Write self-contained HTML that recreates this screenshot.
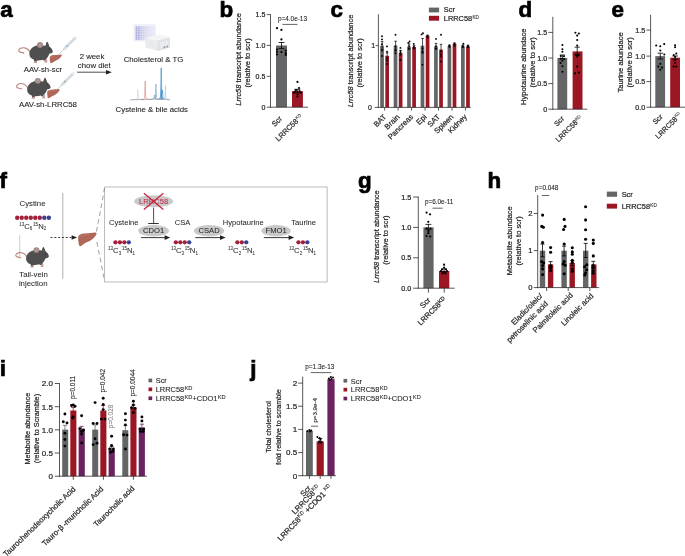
<!DOCTYPE html>
<html><head><meta charset="utf-8"><title>Figure</title>
<style>
html,body{margin:0;padding:0;background:#fff;}
svg{display:block;font-family:"Liberation Sans",sans-serif;}
</style></head><body>
<svg width="685" height="556" viewBox="0 0 685 556">
<rect width="685" height="556" fill="#fff"/>
<text x="0.2" y="16.6" font-size="22.4" font-weight="bold" fill="#000" stroke="#000" stroke-width="0.7">a</text>
<text x="219.5" y="16.6" font-size="22.4" font-weight="bold" fill="#000" stroke="#000" stroke-width="0.7">b</text>
<text x="330.5" y="16.6" font-size="22.4" font-weight="bold" fill="#000" stroke="#000" stroke-width="0.7">c</text>
<text x="518.5" y="16.6" font-size="22.4" font-weight="bold" fill="#000" stroke="#000" stroke-width="0.7">d</text>
<text x="611.5" y="16.6" font-size="22.4" font-weight="bold" fill="#000" stroke="#000" stroke-width="0.7">e</text>
<text x="-0.5" y="187.7" font-size="22.4" font-weight="bold" fill="#000" stroke="#000" stroke-width="0.7">f</text>
<text x="358" y="187.7" font-size="22.4" font-weight="bold" fill="#000" stroke="#000" stroke-width="0.7">g</text>
<text x="487.5" y="187.7" font-size="22.4" font-weight="bold" fill="#000" stroke="#000" stroke-width="0.7">h</text>
<text x="-0.2" y="375.8" font-size="22.4" font-weight="bold" fill="#000" stroke="#000" stroke-width="0.7">i</text>
<text x="250.2" y="375.8" font-size="22.4" font-weight="bold" fill="#000" stroke="#000" stroke-width="0.7">j</text>
<g transform="translate(17.5 40.5) scale(1.0) translate(-17.5 -40.5)">
<path d="M30.2 52.2 C28.4 48.2 23.4 46.6 20 48.6 C17.8 50 18.8 52.2 21 52.4 C22 52.5 23 52.6 23.8 53.2" fill="none" stroke="#bb877c" stroke-width="1.15" stroke-linecap="round"/>
<path d="M35 58 L34.2 62.2 L33 63 L37 63 L37.6 58.5 Z" fill="#c39a92"/>
<path d="M44.2 58 L44.8 61.6 L43.8 62.6 L47.4 62.4 L46.6 57.6 Z" fill="#c39a92"/>
<path d="M29.4 54.6 C29 49.6 33 45.6 38.6 45.2 C41.6 45 44 45.2 45.4 45.8 L46.4 42.6 C46.8 41.6 47.6 41.6 48 42.6 L49.4 46.4 C51 47.4 52.4 49.4 52.8 51.2 C53 52.4 52.2 53 51 53.2 C50 53.4 49.4 53.6 49 54.4 C48.2 56.6 47 58.4 45.2 59.4 L45 60.4 L43.4 60.4 L43.2 59.8 C41 60.4 38.6 60.6 36.6 60.4 L36.2 61.2 L34.2 61.2 L34 59.8 C31.2 58.8 29.6 57 29.4 54.6 Z" fill="#504f50"/>
<ellipse cx="40" cy="45" rx="3" ry="2.9" fill="#9c8785"/>
<ellipse cx="40.2" cy="45.3" rx="2" ry="1.9" fill="#b09794"/>
<circle cx="49.4" cy="49.2" r="0.6" fill="#1d1d1d"/>
</g>
<g transform="translate(49.4 54.3) scale(0.93)">
<path d="M0.4 3.2 C0.6 1.6 2.4 1 4.6 0.8 C7.6 0.5 10.6 0.4 12.4 0.1 C13.4 0 13.6 0.8 13 1.8 C11.8 3.8 10 5.4 7.8 6.4 C5.8 7.2 4.2 8 3 9.2 C2 10 1 9.8 0.8 8.4 C0.5 6.6 0.3 4.8 0.4 3.2 Z" fill="#b0675a"/>
<path d="M1.6 2.6 C3.6 1.8 6 1.6 8.6 1.5" fill="none" stroke="#c48678" stroke-width="0.5" opacity="0.7"/>
</g>
<g transform="translate(59.3 53.8) rotate(-44.83)">
<line x1="0" y1="0" x2="6.59" y2="0" stroke="#8aa5a2" stroke-width="0.5"/>
<rect x="5.89" y="-0.6" width="1.18" height="1.2" fill="#a8c3c6"/>
<rect x="6.83" y="-1.3" width="14.13" height="2.6" rx="0.3" fill="#e0e6ea" stroke="#cdd6dc" stroke-width="0.3"/>
<rect x="7.3" y="-0.9" width="3.53" height="1.8" fill="#c9dbe3"/>
<rect x="10.83" y="-1.0" width="0.82" height="2.0" fill="#767d89"/>
<rect x="11.66" y="-0.45" width="10.6" height="0.9" fill="#c9d1d8"/>
<rect x="20.96" y="-2.0" width="0.8" height="4.0" fill="#c9d2d9"/>
<rect x="22.84" y="-1.5" width="0.7" height="3.0" fill="#c9d2d9"/>
</g>
<text x="43" y="72.3" font-size="7.8" text-anchor="middle" fill="#231f20" stroke="#231f20" stroke-width="0.1" >AAV-sh-scr</text>
<g transform="translate(15.3 76.3) scale(1.0) translate(-17.5 -40.5)">
<path d="M30.2 52.2 C28.4 48.2 23.4 46.6 20 48.6 C17.8 50 18.8 52.2 21 52.4 C22 52.5 23 52.6 23.8 53.2" fill="none" stroke="#bb877c" stroke-width="1.15" stroke-linecap="round"/>
<path d="M35 58 L34.2 62.2 L33 63 L37 63 L37.6 58.5 Z" fill="#c39a92"/>
<path d="M44.2 58 L44.8 61.6 L43.8 62.6 L47.4 62.4 L46.6 57.6 Z" fill="#c39a92"/>
<path d="M29.4 54.6 C29 49.6 33 45.6 38.6 45.2 C41.6 45 44 45.2 45.4 45.8 L46.4 42.6 C46.8 41.6 47.6 41.6 48 42.6 L49.4 46.4 C51 47.4 52.4 49.4 52.8 51.2 C53 52.4 52.2 53 51 53.2 C50 53.4 49.4 53.6 49 54.4 C48.2 56.6 47 58.4 45.2 59.4 L45 60.4 L43.4 60.4 L43.2 59.8 C41 60.4 38.6 60.6 36.6 60.4 L36.2 61.2 L34.2 61.2 L34 59.8 C31.2 58.8 29.6 57 29.4 54.6 Z" fill="#504f50"/>
<ellipse cx="40" cy="45" rx="3" ry="2.9" fill="#9c8785"/>
<ellipse cx="40.2" cy="45.3" rx="2" ry="1.9" fill="#b09794"/>
<circle cx="49.4" cy="49.2" r="0.6" fill="#1d1d1d"/>
</g>
<g transform="translate(46.8 89) scale(0.96)">
<path d="M0.4 3.2 C0.6 1.6 2.4 1 4.6 0.8 C7.6 0.5 10.6 0.4 12.4 0.1 C13.4 0 13.6 0.8 13 1.8 C11.8 3.8 10 5.4 7.8 6.4 C5.8 7.2 4.2 8 3 9.2 C2 10 1 9.8 0.8 8.4 C0.5 6.6 0.3 4.8 0.4 3.2 Z" fill="#b0675a"/>
<path d="M1.6 2.6 C3.6 1.8 6 1.6 8.6 1.5" fill="none" stroke="#c48678" stroke-width="0.5" opacity="0.7"/>
</g>
<g transform="translate(57 89.6) rotate(-44.66)">
<line x1="0" y1="0" x2="6.69" y2="0" stroke="#8aa5a2" stroke-width="0.5"/>
<rect x="5.98" y="-0.6" width="1.2" height="1.2" fill="#a8c3c6"/>
<rect x="6.93" y="-1.3" width="14.34" height="2.6" rx="0.3" fill="#e0e6ea" stroke="#cdd6dc" stroke-width="0.3"/>
<rect x="7.41" y="-0.9" width="3.59" height="1.8" fill="#c9dbe3"/>
<rect x="10.99" y="-1.0" width="0.84" height="2.0" fill="#767d89"/>
<rect x="11.83" y="-0.45" width="10.76" height="0.9" fill="#c9d1d8"/>
<rect x="21.27" y="-2.0" width="0.8" height="4.0" fill="#c9d2d9"/>
<rect x="23.18" y="-1.5" width="0.7" height="3.0" fill="#c9d2d9"/>
</g>
<text x="48" y="106.7" font-size="7.8" text-anchor="middle" fill="#231f20" stroke="#231f20" stroke-width="0.1" >AAV-sh-LRRC58</text>
<text x="92" y="58.7" font-size="7.8" text-anchor="middle" fill="#231f20" stroke="#231f20" stroke-width="0.1" >2 week</text>
<text x="94.3" y="67.7" font-size="7.8" text-anchor="middle" fill="#231f20" stroke="#231f20" stroke-width="0.1" >chow diet</text>
<line x1="77.2" y1="72.2" x2="107.5" y2="72.2" stroke="#231f20" stroke-width="0.8" />
<path d="M111.8 72.2 L106 70 L106 74.4 Z" fill="#231f20"/>
<g>
<rect x="133.4" y="24.2" width="22.5" height="17.3" fill="#eff1f9"/>
<rect x="135.2" y="26" width="19.4" height="14.2" fill="#e6e8f5"/>
<rect x="135.6" y="26.4" width="1.8" height="1.25" fill="#a6a2da"/>
<rect x="135.6" y="28.12" width="1.8" height="1.25" fill="#a6a2da"/>
<rect x="135.6" y="29.84" width="1.8" height="1.25" fill="#a6a2da"/>
<rect x="135.6" y="31.56" width="1.8" height="1.25" fill="#a6a2da"/>
<rect x="135.6" y="33.28" width="1.8" height="1.25" fill="#a6a2da"/>
<rect x="135.6" y="35" width="1.8" height="1.25" fill="#a6a2da"/>
<rect x="135.6" y="36.72" width="1.8" height="1.25" fill="#a6a2da"/>
<rect x="135.6" y="38.44" width="1.8" height="1.25" fill="#a6a2da"/>
<rect x="137.95" y="26.4" width="1.8" height="1.25" fill="#aeabde"/>
<rect x="137.95" y="28.12" width="1.8" height="1.25" fill="#aeabde"/>
<rect x="137.95" y="29.84" width="1.8" height="1.25" fill="#aeabde"/>
<rect x="137.95" y="31.56" width="1.8" height="1.25" fill="#aeabde"/>
<rect x="137.95" y="33.28" width="1.8" height="1.25" fill="#aeabde"/>
<rect x="137.95" y="35" width="1.8" height="1.25" fill="#aeabde"/>
<rect x="137.95" y="36.72" width="1.8" height="1.25" fill="#aeabde"/>
<rect x="137.95" y="38.44" width="1.8" height="1.25" fill="#aeabde"/>
<rect x="140.3" y="26.4" width="1.8" height="1.25" fill="#c3c1e8"/>
<rect x="140.3" y="28.12" width="1.8" height="1.25" fill="#c3c1e8"/>
<rect x="140.3" y="29.84" width="1.8" height="1.25" fill="#c3c1e8"/>
<rect x="140.3" y="31.56" width="1.8" height="1.25" fill="#c3c1e8"/>
<rect x="140.3" y="33.28" width="1.8" height="1.25" fill="#c3c1e8"/>
<rect x="140.3" y="35" width="1.8" height="1.25" fill="#c3c1e8"/>
<rect x="140.3" y="36.72" width="1.8" height="1.25" fill="#c3c1e8"/>
<rect x="140.3" y="38.44" width="1.8" height="1.25" fill="#c3c1e8"/>
<rect x="142.65" y="26.4" width="1.8" height="1.25" fill="#cdcced"/>
<rect x="142.65" y="28.12" width="1.8" height="1.25" fill="#cdcced"/>
<rect x="142.65" y="29.84" width="1.8" height="1.25" fill="#cdcced"/>
<rect x="142.65" y="31.56" width="1.8" height="1.25" fill="#cdcced"/>
<rect x="142.65" y="33.28" width="1.8" height="1.25" fill="#cdcced"/>
<rect x="142.65" y="35" width="1.8" height="1.25" fill="#cdcced"/>
<rect x="142.65" y="36.72" width="1.8" height="1.25" fill="#cdcced"/>
<rect x="142.65" y="38.44" width="1.8" height="1.25" fill="#cdcced"/>
<rect x="145" y="26.4" width="1.8" height="1.25" fill="#dadaf2"/>
<rect x="145" y="28.12" width="1.8" height="1.25" fill="#dadaf2"/>
<rect x="145" y="29.84" width="1.8" height="1.25" fill="#dadaf2"/>
<rect x="145" y="31.56" width="1.8" height="1.25" fill="#dadaf2"/>
<rect x="145" y="33.28" width="1.8" height="1.25" fill="#dadaf2"/>
<rect x="145" y="35" width="1.8" height="1.25" fill="#dadaf2"/>
<rect x="145" y="36.72" width="1.8" height="1.25" fill="#dadaf2"/>
<rect x="145" y="38.44" width="1.8" height="1.25" fill="#dadaf2"/>
<rect x="147.35" y="26.4" width="1.8" height="1.25" fill="#dfe0f4"/>
<rect x="147.35" y="28.12" width="1.8" height="1.25" fill="#dfe0f4"/>
<rect x="147.35" y="29.84" width="1.8" height="1.25" fill="#dfe0f4"/>
<rect x="147.35" y="31.56" width="1.8" height="1.25" fill="#dfe0f4"/>
<rect x="147.35" y="33.28" width="1.8" height="1.25" fill="#dfe0f4"/>
<rect x="147.35" y="35" width="1.8" height="1.25" fill="#dfe0f4"/>
<rect x="147.35" y="36.72" width="1.8" height="1.25" fill="#dfe0f4"/>
<rect x="147.35" y="38.44" width="1.8" height="1.25" fill="#dfe0f4"/>
<rect x="149.7" y="26.4" width="1.8" height="1.25" fill="#e6e7f6"/>
<rect x="149.7" y="28.12" width="1.8" height="1.25" fill="#e6e7f6"/>
<rect x="149.7" y="29.84" width="1.8" height="1.25" fill="#e6e7f6"/>
<rect x="149.7" y="31.56" width="1.8" height="1.25" fill="#e6e7f6"/>
<rect x="149.7" y="33.28" width="1.8" height="1.25" fill="#e6e7f6"/>
<rect x="149.7" y="35" width="1.8" height="1.25" fill="#e6e7f6"/>
<rect x="149.7" y="36.72" width="1.8" height="1.25" fill="#e6e7f6"/>
<rect x="149.7" y="38.44" width="1.8" height="1.25" fill="#e6e7f6"/>
<rect x="152.05" y="26.4" width="1.8" height="1.25" fill="#e9eaf7"/>
<rect x="152.05" y="28.12" width="1.8" height="1.25" fill="#e9eaf7"/>
<rect x="152.05" y="29.84" width="1.8" height="1.25" fill="#e9eaf7"/>
<rect x="152.05" y="31.56" width="1.8" height="1.25" fill="#e9eaf7"/>
<rect x="152.05" y="33.28" width="1.8" height="1.25" fill="#e9eaf7"/>
<rect x="152.05" y="35" width="1.8" height="1.25" fill="#e9eaf7"/>
<rect x="152.05" y="36.72" width="1.8" height="1.25" fill="#e9eaf7"/>
<rect x="152.05" y="38.44" width="1.8" height="1.25" fill="#e9eaf7"/>
<path d="M145.4 38.2 L158.6 34.8 L169.8 37.4 L169.8 47.6 L157.6 50.8 L145.4 47.6 Z" fill="#eaebef"/>
<path d="M145.4 38.2 L158.6 34.8 L169.8 37.4 L157.6 40.8 Z" fill="#f5f5f8"/>
<path d="M157.6 40.8 L169.8 37.4 L169.8 47.6 L157.6 50.8 Z" fill="#dfe0e6"/>
<path d="M159.6 42.2 L168.4 39.8 L168.4 46.2 L159.6 48.6 Z" fill="#e9eaef"/>
<path d="M163.6 46.6 L165.2 46.2 L165.2 47.9 L163.6 48.3 Z" fill="#8a8e9a"/>
<path d="M166.4 45.9 L168 45.5 L168 47.2 L166.4 47.6 Z" fill="#8a8e9a"/>
</g>
<text x="153.5" y="61.7" font-size="7.8" text-anchor="middle" fill="#231f20" stroke="#231f20" stroke-width="0.1" >Cholesterol &amp; TG</text>
<g fill="none" stroke-linejoin="round">
<path d="M130.5 99.8 L137.3 99.6 L137.8 89.3 L138.3 99.6 L143 99.5" stroke="#bdd0e8" stroke-width="0.55"/>
<path d="M141 99.6 L144 99.2 L144.6 97.8 L145.2 81 L145.8 97.8 L146.5 99 L148.5 99.4" stroke="#d9897c" stroke-width="0.65"/>
<path d="M149 99.5 L153.5 99 L154.4 95 L155.2 98 L155.9 84 L156.6 97.5 L157.4 99.2 L159.5 99" stroke="#7fa6d4" stroke-width="0.65"/>
<path d="M154.5 99.3 L155.3 93 L156.4 99.3 Z" fill="#8eb0da" stroke="none"/>
<path d="M158.8 99.4 L160.5 96.6 L161.2 67.8 L161.9 94 L162.5 90 L163.1 99 L164.5 99.4" stroke="#3f8fc6" stroke-width="0.7"/>
<path d="M160.3 99.4 L161.2 86 L162.8 99.4 Z" fill="#4d97cb" stroke="none"/>
<path d="M164 99.5 L164.9 99 L165.4 85.6 L165.9 99 L169.8 99.6" stroke="#9dbfe2" stroke-width="0.55"/>
<path d="M130.3 100 L134 99.4 L136 99.9 L140 99.3 L143 99.9 L148 99 L150 99.8 L153 98.8 L158 99.6 L164 99.1 L169.8 100" stroke="#60646c" stroke-width="0.45"/>
</g>
<text x="151.8" y="112.1" font-size="7.8" text-anchor="middle" fill="#231f20" stroke="#231f20" stroke-width="0.1" >Cysteine &amp; bile acids</text>
<text x="241" y="59.4" font-size="7.45" text-anchor="middle" fill="#231f20" stroke="#231f20" stroke-width="0.22" transform="rotate(-90 241 59.4)" ><tspan font-style="italic">Lrrc58</tspan> transcript abundance</text>
<text x="249.8" y="62.9" font-size="7.45" text-anchor="middle" fill="#231f20" stroke="#231f20" stroke-width="0.22" transform="rotate(-90 249.8 62.9)" >(relative to scr)</text>
<rect x="276" y="45.5" width="11" height="61.7" fill="#636567" />
<rect x="292" y="91.1" width="10.9" height="16.1" fill="#9b1724" />
<line x1="270.5" y1="14.22" x2="270.5" y2="107.58" stroke="#231f20" stroke-width="0.75" />
<line x1="266.8" y1="14.6" x2="270.5" y2="14.6" stroke="#231f20" stroke-width="0.75" />
<text x="265.3" y="17.11" font-size="7.0" text-anchor="end" fill="#231f20" stroke="#231f20" stroke-width="0.22" >1.5</text>
<line x1="266.8" y1="45.4" x2="270.5" y2="45.4" stroke="#231f20" stroke-width="0.75" />
<text x="265.3" y="47.91" font-size="7.0" text-anchor="end" fill="#231f20" stroke="#231f20" stroke-width="0.22" >1.0</text>
<line x1="266.8" y1="76.3" x2="270.5" y2="76.3" stroke="#231f20" stroke-width="0.75" />
<text x="265.3" y="78.81" font-size="7.0" text-anchor="end" fill="#231f20" stroke="#231f20" stroke-width="0.22" >0.5</text>
<line x1="266.8" y1="107.2" x2="270.5" y2="107.2" stroke="#231f20" stroke-width="0.75" />
<text x="265.3" y="109.71" font-size="7.0" text-anchor="end" fill="#231f20" stroke="#231f20" stroke-width="0.22" >0</text>
<line x1="270.1" y1="107.2" x2="308" y2="107.2" stroke="#231f20" stroke-width="0.75" />
<line x1="281.5" y1="42.5" x2="281.5" y2="48.6" stroke="#000" stroke-width="0.8" />
<line x1="278.5" y1="42.5" x2="284.5" y2="42.5" stroke="#000" stroke-width="0.8" />
<line x1="278.5" y1="48.6" x2="284.5" y2="48.6" stroke="#000" stroke-width="0.8" />
<circle cx="277" cy="28.2" r="1.1" fill="#000"/>
<circle cx="281.4" cy="29.9" r="1.1" fill="#000"/>
<circle cx="281.4" cy="39.4" r="1.1" fill="#000"/>
<circle cx="277" cy="49.5" r="1.1" fill="#000"/>
<circle cx="277" cy="52" r="1.1" fill="#000"/>
<circle cx="277" cy="54.5" r="1.1" fill="#000"/>
<circle cx="281.4" cy="52" r="1.1" fill="#000"/>
<circle cx="285.8" cy="50.5" r="1.1" fill="#000"/>
<circle cx="285.8" cy="53.2" r="1.1" fill="#000"/>
<circle cx="285.8" cy="55" r="1.1" fill="#000"/>
<line x1="297.4" y1="89.3" x2="297.4" y2="92.6" stroke="#000" stroke-width="0.8" />
<line x1="294.4" y1="89.3" x2="300.4" y2="89.3" stroke="#000" stroke-width="0.8" />
<line x1="294.4" y1="92.6" x2="300.4" y2="92.6" stroke="#000" stroke-width="0.8" />
<circle cx="297.5" cy="81.9" r="1.1" fill="#000"/>
<circle cx="299" cy="88" r="1.1" fill="#000"/>
<circle cx="295.3" cy="91.4" r="1.1" fill="#000"/>
<circle cx="293.8" cy="92.8" r="1.1" fill="#000"/>
<circle cx="301" cy="92.8" r="1.1" fill="#000"/>
<circle cx="297.5" cy="94.3" r="1.1" fill="#000"/>
<circle cx="297.5" cy="96.5" r="1.1" fill="#000"/>
<circle cx="296" cy="90" r="1.1" fill="#000"/>
<circle cx="299.5" cy="91" r="1.1" fill="#000"/>
<text x="278" y="20.9" font-size="6.4" text-anchor="start" fill="#231f20" stroke="#231f20" stroke-width="0.1">p=4.0e-13</text>
<line x1="282.4" y1="24.4" x2="297.5" y2="24.4" stroke="#231f20" stroke-width="0.7" />
<text x="282.6" y="119.1" font-size="7.4" text-anchor="end" fill="#231f20" stroke="#231f20" stroke-width="0.22" transform="rotate(-45 282.6 119.1)" >Scr</text>
<text x="303.1" y="117.2" font-size="7.4" text-anchor="end" fill="#231f20" stroke="#231f20" stroke-width="0.22" transform="rotate(-45 303.1 117.2)" >LRRC58<tspan dy="-2.4" dx="0.3" font-size="4.4" stroke-width="0.08">KD</tspan></text>
<text x="353.4" y="61" font-size="7.45" text-anchor="middle" fill="#231f20" stroke="#231f20" stroke-width="0.22" transform="rotate(-90 353.4 61)" ><tspan font-style="italic">Lrrc58</tspan> transcript abundance</text>
<text x="362" y="62.9" font-size="7.45" text-anchor="middle" fill="#231f20" stroke="#231f20" stroke-width="0.22" transform="rotate(-90 362 62.9)" >(relative to scr)</text>
<rect x="380.2" y="45.7" width="3.7" height="61.7" fill="#636567" />
<rect x="385.3" y="55.8" width="3.7" height="51.6" fill="#9b1724" />
<rect x="393.67" y="45.7" width="3.7" height="61.7" fill="#636567" />
<rect x="398.77" y="52.8" width="3.7" height="54.6" fill="#9b1724" />
<rect x="407.14" y="46.5" width="3.7" height="60.9" fill="#636567" />
<rect x="412.24" y="47" width="3.7" height="60.4" fill="#9b1724" />
<rect x="420.61" y="45.7" width="3.7" height="61.7" fill="#636567" />
<rect x="425.71" y="35.8" width="3.7" height="71.6" fill="#9b1724" />
<rect x="434.08" y="46.3" width="3.7" height="61.1" fill="#636567" />
<rect x="439.18" y="49.6" width="3.7" height="57.8" fill="#9b1724" />
<rect x="447.55" y="46.2" width="3.7" height="61.2" fill="#636567" />
<rect x="452.65" y="43.8" width="3.7" height="63.6" fill="#9b1724" />
<rect x="461.02" y="46.3" width="3.7" height="61.1" fill="#636567" />
<rect x="466.12" y="46.4" width="3.7" height="61" fill="#9b1724" />
<line x1="378.4" y1="14.22" x2="378.4" y2="107.78" stroke="#231f20" stroke-width="0.75" />
<line x1="375.5" y1="45.7" x2="378.4" y2="45.7" stroke="#231f20" stroke-width="0.75" />
<text x="375.1" y="48.21" font-size="7.0" text-anchor="end" fill="#231f20" stroke="#231f20" stroke-width="0.22" >1</text>
<line x1="374.7" y1="107.4" x2="378.4" y2="107.4" stroke="#231f20" stroke-width="0.75" />
<text x="371.9" y="109.9" font-size="7.0" text-anchor="end" fill="#231f20" stroke="#231f20" stroke-width="0.22" >0</text>
<line x1="378" y1="107.4" x2="470.8" y2="107.4" stroke="#231f20" stroke-width="0.75" />
<line x1="384.65" y1="107.4" x2="384.65" y2="110.6" stroke="#231f20" stroke-width="0.75" />
<line x1="398.12" y1="107.4" x2="398.12" y2="110.6" stroke="#231f20" stroke-width="0.75" />
<line x1="411.59" y1="107.4" x2="411.59" y2="110.6" stroke="#231f20" stroke-width="0.75" />
<line x1="425.06" y1="107.4" x2="425.06" y2="110.6" stroke="#231f20" stroke-width="0.75" />
<line x1="438.53" y1="107.4" x2="438.53" y2="110.6" stroke="#231f20" stroke-width="0.75" />
<line x1="452" y1="107.4" x2="452" y2="110.6" stroke="#231f20" stroke-width="0.75" />
<line x1="465.47" y1="107.4" x2="465.47" y2="110.6" stroke="#231f20" stroke-width="0.75" />
<text x="386.7" y="117.4" font-size="7.6" text-anchor="end" fill="#231f20" stroke="#231f20" stroke-width="0.22" transform="rotate(-45 386.7 117.4)" >BAT</text>
<text x="400.17" y="117.4" font-size="7.6" text-anchor="end" fill="#231f20" stroke="#231f20" stroke-width="0.22" transform="rotate(-45 400.17 117.4)" >Brain</text>
<text x="413.64" y="117.4" font-size="7.6" text-anchor="end" fill="#231f20" stroke="#231f20" stroke-width="0.22" transform="rotate(-45 413.64 117.4)" >Pancreas</text>
<text x="427.11" y="117.4" font-size="7.6" text-anchor="end" fill="#231f20" stroke="#231f20" stroke-width="0.22" transform="rotate(-45 427.11 117.4)" >Epi</text>
<text x="440.58" y="117.4" font-size="7.6" text-anchor="end" fill="#231f20" stroke="#231f20" stroke-width="0.22" transform="rotate(-45 440.58 117.4)" >SAT</text>
<text x="454.05" y="117.4" font-size="7.6" text-anchor="end" fill="#231f20" stroke="#231f20" stroke-width="0.22" transform="rotate(-45 454.05 117.4)" >Spleen</text>
<text x="467.52" y="117.4" font-size="7.6" text-anchor="end" fill="#231f20" stroke="#231f20" stroke-width="0.22" transform="rotate(-45 467.52 117.4)" >Kidney</text>
<line x1="382.15" y1="41.6" x2="382.15" y2="49.6" stroke="#000" stroke-width="0.7" />
<line x1="380.85" y1="41.6" x2="383.45" y2="41.6" stroke="#000" stroke-width="0.7" />
<line x1="380.85" y1="49.6" x2="383.45" y2="49.6" stroke="#000" stroke-width="0.7" />
<line x1="387.15" y1="52.9" x2="387.15" y2="58.6" stroke="#000" stroke-width="0.7" />
<line x1="385.85" y1="52.9" x2="388.45" y2="52.9" stroke="#000" stroke-width="0.7" />
<line x1="385.85" y1="58.6" x2="388.45" y2="58.6" stroke="#000" stroke-width="0.7" />
<circle cx="382" cy="36.2" r="0.95" fill="#000"/>
<circle cx="382" cy="39.4" r="0.95" fill="#000"/>
<circle cx="382" cy="44.3" r="0.95" fill="#000"/>
<circle cx="382" cy="50.6" r="0.95" fill="#000"/>
<circle cx="382" cy="56" r="0.95" fill="#000"/>
<circle cx="387" cy="46.4" r="0.95" fill="#000"/>
<circle cx="387" cy="51.8" r="0.95" fill="#000"/>
<circle cx="387" cy="60.5" r="0.95" fill="#000"/>
<circle cx="387" cy="64" r="0.95" fill="#000"/>
<line x1="395.62" y1="41.2" x2="395.62" y2="50" stroke="#000" stroke-width="0.7" />
<line x1="394.32" y1="41.2" x2="396.92" y2="41.2" stroke="#000" stroke-width="0.7" />
<line x1="394.32" y1="50" x2="396.92" y2="50" stroke="#000" stroke-width="0.7" />
<line x1="400.62" y1="50.4" x2="400.62" y2="55.2" stroke="#000" stroke-width="0.7" />
<line x1="399.32" y1="50.4" x2="401.92" y2="50.4" stroke="#000" stroke-width="0.7" />
<line x1="399.32" y1="55.2" x2="401.92" y2="55.2" stroke="#000" stroke-width="0.7" />
<circle cx="395.5" cy="34.7" r="0.95" fill="#000"/>
<circle cx="395.5" cy="46.1" r="0.95" fill="#000"/>
<circle cx="395.5" cy="50.6" r="0.95" fill="#000"/>
<circle cx="395.5" cy="53.3" r="0.95" fill="#000"/>
<circle cx="400.4" cy="47.9" r="0.95" fill="#000"/>
<circle cx="400.4" cy="51.1" r="0.95" fill="#000"/>
<circle cx="400.4" cy="52.9" r="0.95" fill="#000"/>
<circle cx="400.4" cy="60" r="0.95" fill="#000"/>
<line x1="409.09" y1="44" x2="409.09" y2="49" stroke="#000" stroke-width="0.7" />
<line x1="407.79" y1="44" x2="410.39" y2="44" stroke="#000" stroke-width="0.7" />
<line x1="407.79" y1="49" x2="410.39" y2="49" stroke="#000" stroke-width="0.7" />
<line x1="414.09" y1="45.6" x2="414.09" y2="48.4" stroke="#000" stroke-width="0.7" />
<line x1="412.79" y1="45.6" x2="415.39" y2="45.6" stroke="#000" stroke-width="0.7" />
<line x1="412.79" y1="48.4" x2="415.39" y2="48.4" stroke="#000" stroke-width="0.7" />
<circle cx="409.6" cy="41.5" r="0.95" fill="#000"/>
<circle cx="408.3" cy="43" r="0.95" fill="#000"/>
<circle cx="409" cy="46.1" r="0.95" fill="#000"/>
<circle cx="409" cy="48.8" r="0.95" fill="#000"/>
<circle cx="413.8" cy="43.9" r="0.95" fill="#000"/>
<circle cx="413.8" cy="47" r="0.95" fill="#000"/>
<circle cx="413.8" cy="48.4" r="0.95" fill="#000"/>
<line x1="422.56" y1="38.5" x2="422.56" y2="53" stroke="#000" stroke-width="0.7" />
<line x1="421.26" y1="38.5" x2="423.86" y2="38.5" stroke="#000" stroke-width="0.7" />
<line x1="421.26" y1="53" x2="423.86" y2="53" stroke="#000" stroke-width="0.7" />
<line x1="427.56" y1="35.2" x2="427.56" y2="36.6" stroke="#000" stroke-width="0.7" />
<line x1="426.26" y1="35.2" x2="428.86" y2="35.2" stroke="#000" stroke-width="0.7" />
<line x1="426.26" y1="36.6" x2="428.86" y2="36.6" stroke="#000" stroke-width="0.7" />
<circle cx="423" cy="33.3" r="0.95" fill="#000"/>
<circle cx="421.6" cy="34.4" r="0.95" fill="#000"/>
<circle cx="422.4" cy="48.4" r="0.95" fill="#000"/>
<circle cx="422.4" cy="52" r="0.95" fill="#000"/>
<circle cx="422.4" cy="64.6" r="0.95" fill="#000"/>
<circle cx="427.5" cy="35.8" r="0.95" fill="#000"/>
<circle cx="427.5" cy="37.6" r="0.95" fill="#000"/>
<line x1="436.03" y1="43.4" x2="436.03" y2="49" stroke="#000" stroke-width="0.7" />
<line x1="434.73" y1="43.4" x2="437.33" y2="43.4" stroke="#000" stroke-width="0.7" />
<line x1="434.73" y1="49" x2="437.33" y2="49" stroke="#000" stroke-width="0.7" />
<line x1="441.03" y1="44.3" x2="441.03" y2="57" stroke="#000" stroke-width="0.7" />
<line x1="439.73" y1="44.3" x2="442.33" y2="44.3" stroke="#000" stroke-width="0.7" />
<line x1="439.73" y1="57" x2="442.33" y2="57" stroke="#000" stroke-width="0.7" />
<circle cx="436" cy="38.9" r="0.95" fill="#000"/>
<circle cx="436" cy="46.1" r="0.95" fill="#000"/>
<circle cx="436" cy="48.6" r="0.95" fill="#000"/>
<circle cx="441" cy="34.7" r="0.95" fill="#000"/>
<circle cx="441" cy="51.1" r="0.95" fill="#000"/>
<circle cx="441" cy="54.7" r="0.95" fill="#000"/>
<circle cx="441" cy="61.4" r="0.95" fill="#000"/>
<line x1="449.5" y1="45.4" x2="449.5" y2="47" stroke="#000" stroke-width="0.7" />
<line x1="448.2" y1="45.4" x2="450.8" y2="45.4" stroke="#000" stroke-width="0.7" />
<line x1="448.2" y1="47" x2="450.8" y2="47" stroke="#000" stroke-width="0.7" />
<line x1="454.5" y1="43" x2="454.5" y2="44.8" stroke="#000" stroke-width="0.7" />
<line x1="453.2" y1="43" x2="455.8" y2="43" stroke="#000" stroke-width="0.7" />
<line x1="453.2" y1="44.8" x2="455.8" y2="44.8" stroke="#000" stroke-width="0.7" />
<circle cx="449.4" cy="45.2" r="0.95" fill="#000"/>
<circle cx="449.4" cy="46.6" r="0.95" fill="#000"/>
<circle cx="454.5" cy="43.4" r="0.95" fill="#000"/>
<circle cx="454.5" cy="46.1" r="0.95" fill="#000"/>
<line x1="462.97" y1="45" x2="462.97" y2="47.2" stroke="#000" stroke-width="0.7" />
<line x1="461.67" y1="45" x2="464.27" y2="45" stroke="#000" stroke-width="0.7" />
<line x1="461.67" y1="47.2" x2="464.27" y2="47.2" stroke="#000" stroke-width="0.7" />
<line x1="467.97" y1="45.8" x2="467.97" y2="47.2" stroke="#000" stroke-width="0.7" />
<line x1="466.67" y1="45.8" x2="469.27" y2="45.8" stroke="#000" stroke-width="0.7" />
<line x1="466.67" y1="47.2" x2="469.27" y2="47.2" stroke="#000" stroke-width="0.7" />
<circle cx="463.4" cy="43.7" r="0.95" fill="#000"/>
<circle cx="462.5" cy="45.9" r="0.95" fill="#000"/>
<circle cx="463" cy="46.9" r="0.95" fill="#000"/>
<circle cx="468" cy="45.5" r="0.95" fill="#000"/>
<circle cx="468" cy="47" r="0.95" fill="#000"/>
<rect x="428.9" y="7.6" width="10.2" height="4.8" fill="#636567" />
<rect x="428.9" y="15.8" width="10.2" height="4.9" fill="#9b1724" />
<text x="443.8" y="12.4" font-size="7.4" text-anchor="start" fill="#231f20" stroke="#231f20" stroke-width="0.22" >Scr</text>
<text x="443.8" y="21.3" font-size="7.4" text-anchor="start" fill="#231f20" stroke="#231f20" stroke-width="0.22" >LRRC58<tspan dy="-2.3" dx="0.3" font-size="4.7" stroke-width="0.08">KD</tspan></text>
<text x="526" y="66.7" font-size="7.6" text-anchor="middle" fill="#231f20" stroke="#231f20" stroke-width="0.22" transform="rotate(-90 526 66.7)" >Hypotaurine abundace</text>
<text x="535.2" y="62.3" font-size="7.6" text-anchor="middle" fill="#231f20" stroke="#231f20" stroke-width="0.22" transform="rotate(-90 535.2 62.3)" >(relative to scr)</text>
<rect x="557.4" y="58" width="9.8" height="51.2" fill="#636567" />
<rect x="572.6" y="51.4" width="9.9" height="57.8" fill="#9b1724" />
<line x1="552.8" y1="16.82" x2="552.8" y2="109.58" stroke="#231f20" stroke-width="0.75" />
<line x1="548.3" y1="32.4" x2="552.8" y2="32.4" stroke="#231f20" stroke-width="0.75" />
<text x="547.2" y="34.98" font-size="7.2" text-anchor="end" fill="#231f20" stroke="#231f20" stroke-width="0.22" >1.5</text>
<line x1="548.3" y1="58" x2="552.8" y2="58" stroke="#231f20" stroke-width="0.75" />
<text x="547.2" y="60.58" font-size="7.2" text-anchor="end" fill="#231f20" stroke="#231f20" stroke-width="0.22" >1.0</text>
<line x1="548.3" y1="83.6" x2="552.8" y2="83.6" stroke="#231f20" stroke-width="0.75" />
<text x="547.2" y="86.18" font-size="7.2" text-anchor="end" fill="#231f20" stroke="#231f20" stroke-width="0.22" >0.5</text>
<line x1="548.3" y1="109.2" x2="552.8" y2="109.2" stroke="#231f20" stroke-width="0.75" />
<text x="547.2" y="111.78" font-size="7.2" text-anchor="end" fill="#231f20" stroke="#231f20" stroke-width="0.22" >0</text>
<line x1="552.4" y1="109.2" x2="587.3" y2="109.2" stroke="#231f20" stroke-width="0.75" />
<line x1="562.4" y1="55" x2="562.4" y2="58.8" stroke="#000" stroke-width="0.8" />
<line x1="559.8" y1="55" x2="565" y2="55" stroke="#000" stroke-width="0.8" />
<line x1="559.8" y1="58.8" x2="565" y2="58.8" stroke="#000" stroke-width="0.8" />
<circle cx="562.4" cy="45" r="1.05" fill="#000"/>
<circle cx="562.4" cy="49.3" r="1.05" fill="#000"/>
<circle cx="562.4" cy="51.8" r="1.05" fill="#000"/>
<circle cx="560.8" cy="56" r="1.05" fill="#000"/>
<circle cx="564" cy="56.2" r="1.05" fill="#000"/>
<circle cx="560.6" cy="58.6" r="1.05" fill="#000"/>
<circle cx="564.2" cy="59" r="1.05" fill="#000"/>
<circle cx="562.4" cy="60.6" r="1.05" fill="#000"/>
<circle cx="560.6" cy="62.9" r="1.05" fill="#000"/>
<circle cx="562.4" cy="66.2" r="1.05" fill="#000"/>
<circle cx="562.4" cy="71.8" r="1.05" fill="#000"/>
<line x1="577.2" y1="47.2" x2="577.2" y2="55.4" stroke="#000" stroke-width="0.8" />
<line x1="574.6" y1="47.2" x2="579.8" y2="47.2" stroke="#000" stroke-width="0.8" />
<line x1="574.6" y1="55.4" x2="579.8" y2="55.4" stroke="#000" stroke-width="0.8" />
<circle cx="575.4" cy="32.7" r="1.05" fill="#000"/>
<circle cx="578.9" cy="33.5" r="1.05" fill="#000"/>
<circle cx="577.2" cy="35.6" r="1.05" fill="#000"/>
<circle cx="577.2" cy="40" r="1.05" fill="#000"/>
<circle cx="577.2" cy="45.6" r="1.05" fill="#000"/>
<circle cx="575.9" cy="54.5" r="1.05" fill="#000"/>
<circle cx="578.6" cy="54.5" r="1.05" fill="#000"/>
<circle cx="577.2" cy="56.7" r="1.05" fill="#000"/>
<circle cx="577.2" cy="66.6" r="1.05" fill="#000"/>
<circle cx="578.9" cy="72.6" r="1.05" fill="#000"/>
<circle cx="575" cy="73.4" r="1.05" fill="#000"/>
<text x="564.6" y="119.1" font-size="7.2" text-anchor="end" fill="#231f20" stroke="#231f20" stroke-width="0.22" transform="rotate(-45 564.6 119.1)" >Scr</text>
<text x="582.8" y="118.3" font-size="7.2" text-anchor="end" fill="#231f20" stroke="#231f20" stroke-width="0.22" transform="rotate(-45 582.8 118.3)" >LRRC58<tspan dy="-2.4" dx="0.3" font-size="4.6" stroke-width="0.08">KD</tspan></text>
<text x="622.9" y="62.4" font-size="7.6" text-anchor="middle" fill="#231f20" stroke="#231f20" stroke-width="0.22" transform="rotate(-90 622.9 62.4)" >Taurine abundace</text>
<text x="632.5" y="62.3" font-size="7.6" text-anchor="middle" fill="#231f20" stroke="#231f20" stroke-width="0.22" transform="rotate(-90 632.5 62.3)" >(relative to scr)</text>
<rect x="655.3" y="56.1" width="9.8" height="51.1" fill="#636567" />
<rect x="670.2" y="57.7" width="9.8" height="49.5" fill="#9b1724" />
<line x1="650.6" y1="14.72" x2="650.6" y2="107.58" stroke="#231f20" stroke-width="0.75" />
<line x1="646.4" y1="30.1" x2="650.6" y2="30.1" stroke="#231f20" stroke-width="0.75" />
<text x="645.3" y="32.68" font-size="7.2" text-anchor="end" fill="#231f20" stroke="#231f20" stroke-width="0.22" >1.5</text>
<line x1="646.4" y1="56.1" x2="650.6" y2="56.1" stroke="#231f20" stroke-width="0.75" />
<text x="645.3" y="58.68" font-size="7.2" text-anchor="end" fill="#231f20" stroke="#231f20" stroke-width="0.22" >1.0</text>
<line x1="646.4" y1="81.6" x2="650.6" y2="81.6" stroke="#231f20" stroke-width="0.75" />
<text x="645.3" y="84.18" font-size="7.2" text-anchor="end" fill="#231f20" stroke="#231f20" stroke-width="0.22" >0.5</text>
<line x1="646.4" y1="107.2" x2="650.6" y2="107.2" stroke="#231f20" stroke-width="0.75" />
<text x="645.3" y="109.78" font-size="7.2" text-anchor="end" fill="#231f20" stroke="#231f20" stroke-width="0.22" >0.0</text>
<line x1="650.2" y1="107.2" x2="685" y2="107.2" stroke="#231f20" stroke-width="0.75" />
<line x1="660.3" y1="53.2" x2="660.3" y2="59" stroke="#000" stroke-width="0.8" />
<line x1="657.5" y1="53.2" x2="663.1" y2="53.2" stroke="#000" stroke-width="0.8" />
<line x1="657.5" y1="59" x2="663.1" y2="59" stroke="#000" stroke-width="0.8" />
<circle cx="656.2" cy="45.5" r="1.05" fill="#000"/>
<circle cx="660.3" cy="46.2" r="1.05" fill="#000"/>
<circle cx="664.2" cy="44.1" r="1.05" fill="#000"/>
<circle cx="660.3" cy="50.5" r="1.05" fill="#000"/>
<circle cx="664.3" cy="54.5" r="1.05" fill="#000"/>
<circle cx="660.3" cy="63.7" r="1.05" fill="#000"/>
<circle cx="658.3" cy="66.6" r="1.05" fill="#000"/>
<circle cx="662.1" cy="67.6" r="1.05" fill="#000"/>
<circle cx="660.3" cy="69.8" r="1.05" fill="#000"/>
<line x1="675.1" y1="56" x2="675.1" y2="59.2" stroke="#000" stroke-width="0.8" />
<line x1="672.3" y1="56" x2="677.9" y2="56" stroke="#000" stroke-width="0.8" />
<line x1="672.3" y1="59.2" x2="677.9" y2="59.2" stroke="#000" stroke-width="0.8" />
<circle cx="675.1" cy="45.3" r="1.05" fill="#000"/>
<circle cx="675.1" cy="47.3" r="1.05" fill="#000"/>
<circle cx="676.3" cy="53.6" r="1.05" fill="#000"/>
<circle cx="673.8" cy="55" r="1.05" fill="#000"/>
<circle cx="675.1" cy="56.8" r="1.05" fill="#000"/>
<circle cx="675.1" cy="60.1" r="1.05" fill="#000"/>
<circle cx="675.1" cy="62.8" r="1.05" fill="#000"/>
<circle cx="673.6" cy="66.6" r="1.05" fill="#000"/>
<circle cx="676.3" cy="66.6" r="1.05" fill="#000"/>
<text x="663.1" y="117.2" font-size="7.2" text-anchor="end" fill="#231f20" stroke="#231f20" stroke-width="0.22" transform="rotate(-45 663.1 117.2)" >Scr</text>
<text x="682.2" y="115.4" font-size="7.2" text-anchor="end" fill="#231f20" stroke="#231f20" stroke-width="0.22" transform="rotate(-45 682.2 115.4)" >LRRC58<tspan dy="-2.8" dx="0.3" font-size="4.2" stroke-width="0.08">KD</tspan></text>
<text x="32.5" y="205.7" font-size="7.8" text-anchor="middle" fill="#231f20" stroke="#231f20" stroke-width="0.04" >Cystine</text>
<circle cx="17.2" cy="217.7" r="2.2" fill="#a3203a"/>
<circle cx="21.72" cy="217.7" r="2.2" fill="#a3203a"/>
<circle cx="26.24" cy="217.7" r="2.2" fill="#a3203a"/>
<circle cx="30.76" cy="217.7" r="2.2" fill="#a3203a"/>
<circle cx="35.28" cy="217.7" r="2.2" fill="#a3203a"/>
<circle cx="39.8" cy="217.7" r="2.2" fill="#a3203a"/>
<circle cx="44.32" cy="217.7" r="2.2" fill="#3b3f93"/>
<circle cx="48.84" cy="217.7" r="2.2" fill="#3b3f93"/>
<text x="32.7" y="228.8" font-size="7.7" text-anchor="middle" fill="#231f20" stroke="#231f20" stroke-width="0.04" ><tspan font-size="4.5" dy="-2.7">13</tspan><tspan dy="2.7">C</tspan><tspan font-size="4.5" dy="1.6">6</tspan><tspan dy="-1.6" font-size="3"> </tspan><tspan font-size="4.5" dy="-2.7">15</tspan><tspan dy="2.7">N</tspan><tspan font-size="4.5" dy="1.6">2</tspan></text>
<line x1="62.8" y1="192.8" x2="62.8" y2="278.7" stroke="#8c8c8c" stroke-width="0.7" />
<line x1="19.7" y1="235.3" x2="19.7" y2="256.5" stroke="#9a9a9a" stroke-width="0.5" />
<g transform="translate(14.6 245.6) scale(0.97) translate(-17.5 -40.5)">
<path d="M30.2 52.2 C28.4 48.2 23.4 46.6 20 48.6 C17.8 50 18.8 52.2 21 52.4 C22 52.5 23 52.6 23.8 53.2" fill="none" stroke="#bb877c" stroke-width="1.15" stroke-linecap="round"/>
<path d="M35 58 L34.2 62.2 L33 63 L37 63 L37.6 58.5 Z" fill="#c39a92"/>
<path d="M44.2 58 L44.8 61.6 L43.8 62.6 L47.4 62.4 L46.6 57.6 Z" fill="#c39a92"/>
<path d="M29.4 54.6 C29 49.6 33 45.6 38.6 45.2 C41.6 45 44 45.2 45.4 45.8 L46.4 42.6 C46.8 41.6 47.6 41.6 48 42.6 L49.4 46.4 C51 47.4 52.4 49.4 52.8 51.2 C53 52.4 52.2 53 51 53.2 C50 53.4 49.4 53.6 49 54.4 C48.2 56.6 47 58.4 45.2 59.4 L45 60.4 L43.4 60.4 L43.2 59.8 C41 60.4 38.6 60.6 36.6 60.4 L36.2 61.2 L34.2 61.2 L34 59.8 C31.2 58.8 29.6 57 29.4 54.6 Z" fill="#504f50"/>
<ellipse cx="40" cy="45" rx="3" ry="2.9" fill="#9c8785"/>
<ellipse cx="40.2" cy="45.3" rx="2" ry="1.9" fill="#b09794"/>
<circle cx="49.4" cy="49.2" r="0.6" fill="#1d1d1d"/>
</g>
<text x="33.6" y="276.6" font-size="7.8" text-anchor="middle" fill="#231f20" stroke="#231f20" stroke-width="0.04" >Tail-vein</text>
<text x="33.2" y="285.7" font-size="7.8" text-anchor="middle" fill="#231f20" stroke="#231f20" stroke-width="0.04" >injection</text>
<line x1="50.4" y1="237.5" x2="72.5" y2="237.5" stroke="#231f20" stroke-width="0.8" stroke-dasharray="2.2 1.6"/>
<path d="M77 237.5 L71.6 235.2 L71.6 239.8 Z" fill="#231f20"/>
<g transform="translate(77.6 232.4) scale(1.42)">
<path d="M0.4 3.2 C0.6 1.6 2.4 1 4.6 0.8 C7.6 0.5 10.6 0.4 12.4 0.1 C13.4 0 13.6 0.8 13 1.8 C11.8 3.8 10 5.4 7.8 6.4 C5.8 7.2 4.2 8 3 9.2 C2 10 1 9.8 0.8 8.4 C0.5 6.6 0.3 4.8 0.4 3.2 Z" fill="#b0675a"/>
<path d="M1.6 2.6 C3.6 1.8 6 1.6 8.6 1.5" fill="none" stroke="#c48678" stroke-width="0.5" opacity="0.7"/>
</g>
<rect x="104.7" y="187" width="222.4" height="95" fill="none" stroke="#969696" stroke-width="0.65"/>
<path d="M96.4 231.5 Q100.8 210 104.5 188" fill="none" stroke="#7c7c7c" stroke-width="0.75" stroke-dasharray="4.6 3.4"/>
<path d="M96.8 242 Q101 262 104.6 281.4" fill="none" stroke="#7c7c7c" stroke-width="0.75" stroke-dasharray="4.6 3.4"/>
<ellipse cx="153.6" cy="201.3" rx="19.4" ry="5.95" fill="#c9c9c9"/>
<text x="153.6" y="204" font-size="7.6" text-anchor="middle" fill="#c4274a" stroke="#c4274a" stroke-width="0.04" >LRRC58</text>
<line x1="143.9" y1="193.3" x2="163.3" y2="209.5" stroke="#c9283f" stroke-width="1.35" />
<line x1="163.3" y1="193.3" x2="143.9" y2="209.5" stroke="#c9283f" stroke-width="1.35" />
<line x1="153.6" y1="207.6" x2="153.6" y2="223.5" stroke="#231f20" stroke-width="0.8" />
<line x1="148.2" y1="223.5" x2="158.8" y2="223.5" stroke="#231f20" stroke-width="0.9" />
<ellipse cx="153.6" cy="230.7" rx="15.4" ry="5.7" fill="#c9c9c9"/>
<text x="153.6" y="233.4" font-size="7.6" text-anchor="middle" fill="#231f20" stroke="#231f20" stroke-width="0.04" >CDO1</text>
<line x1="141.1" y1="237.6" x2="166.2" y2="237.6" stroke="#231f20" stroke-width="0.9" />
<path d="M170.2 237.6 L164.6 235.2 L164.6 240 Z" fill="#231f20"/>
<text x="123.8" y="225.2" font-size="7.6" text-anchor="middle" fill="#231f20" stroke="#231f20" stroke-width="0.04" >Cysteine</text>
<circle cx="115.45" cy="242.3" r="2.15" fill="#a3203a"/>
<circle cx="119.9" cy="242.3" r="2.15" fill="#a3203a"/>
<circle cx="124.35" cy="242.3" r="2.15" fill="#a3203a"/>
<circle cx="128.8" cy="242.3" r="2.15" fill="#3b3f93"/>
<text x="121.6" y="253" font-size="7.7" text-anchor="middle" fill="#231f20" stroke="#231f20" stroke-width="0.04" ><tspan font-size="4.5" dy="-2.7">13</tspan><tspan dy="2.7">C</tspan><tspan font-size="4.5" dy="1.6">3</tspan><tspan dy="-1.6" font-size="3"> </tspan><tspan font-size="4.5" dy="-2.7">15</tspan><tspan dy="2.7">N</tspan><tspan font-size="4.5" dy="1.6">1</tspan></text>
<text x="182.5" y="225.2" font-size="7.6" text-anchor="middle" fill="#231f20" stroke="#231f20" stroke-width="0.04" >CSA</text>
<circle cx="175.85" cy="242.3" r="2.15" fill="#a3203a"/>
<circle cx="180.3" cy="242.3" r="2.15" fill="#a3203a"/>
<circle cx="184.75" cy="242.3" r="2.15" fill="#a3203a"/>
<circle cx="189.2" cy="242.3" r="2.15" fill="#3b3f93"/>
<text x="184.4" y="253" font-size="7.7" text-anchor="middle" fill="#231f20" stroke="#231f20" stroke-width="0.04" ><tspan font-size="4.5" dy="-2.7">13</tspan><tspan dy="2.7">C</tspan><tspan font-size="4.5" dy="1.6">3</tspan><tspan dy="-1.6" font-size="3"> </tspan><tspan font-size="4.5" dy="-2.7">15</tspan><tspan dy="2.7">N</tspan><tspan font-size="4.5" dy="1.6">1</tspan></text>
<ellipse cx="209.1" cy="230.7" rx="15.15" ry="5.7" fill="#c9c9c9"/>
<text x="209.1" y="233.4" font-size="7.6" text-anchor="middle" fill="#231f20" stroke="#231f20" stroke-width="0.04" >CSAD</text>
<line x1="195.3" y1="237.6" x2="221.6" y2="237.6" stroke="#231f20" stroke-width="0.9" />
<path d="M225.6 237.6 L220 235.2 L220 240 Z" fill="#231f20"/>
<text x="243.2" y="225.2" font-size="7.6" text-anchor="middle" fill="#231f20" stroke="#231f20" stroke-width="0.04" >Hypotaurine</text>
<circle cx="237.35" cy="242.3" r="2.15" fill="#a3203a"/>
<circle cx="241.8" cy="242.3" r="2.15" fill="#a3203a"/>
<circle cx="246.25" cy="242.3" r="2.15" fill="#3b3f93"/>
<text x="241.6" y="253" font-size="7.7" text-anchor="middle" fill="#231f20" stroke="#231f20" stroke-width="0.04" ><tspan font-size="4.5" dy="-2.7">13</tspan><tspan dy="2.7">C</tspan><tspan font-size="4.5" dy="1.6">2</tspan><tspan dy="-1.6" font-size="3"> </tspan><tspan font-size="4.5" dy="-2.7">15</tspan><tspan dy="2.7">N</tspan><tspan font-size="4.5" dy="1.6">1</tspan></text>
<ellipse cx="276.1" cy="230.7" rx="14.75" ry="5.7" fill="#c9c9c9"/>
<text x="276.1" y="233.4" font-size="7.6" text-anchor="middle" fill="#231f20" stroke="#231f20" stroke-width="0.04" >FMO1</text>
<line x1="263.9" y1="237.6" x2="290.2" y2="237.6" stroke="#231f20" stroke-width="0.9" />
<path d="M294.2 237.6 L288.6 235.2 L288.6 240 Z" fill="#231f20"/>
<text x="303.6" y="225.2" font-size="7.6" text-anchor="middle" fill="#231f20" stroke="#231f20" stroke-width="0.04" >Taurine</text>
<circle cx="298.45" cy="242.3" r="2.15" fill="#a3203a"/>
<circle cx="302.9" cy="242.3" r="2.15" fill="#a3203a"/>
<circle cx="307.35" cy="242.3" r="2.15" fill="#3b3f93"/>
<text x="302.6" y="253" font-size="7.7" text-anchor="middle" fill="#231f20" stroke="#231f20" stroke-width="0.04" ><tspan font-size="4.5" dy="-2.7">13</tspan><tspan dy="2.7">C</tspan><tspan font-size="4.5" dy="1.6">2</tspan><tspan dy="-1.6" font-size="3"> </tspan><tspan font-size="4.5" dy="-2.7">15</tspan><tspan dy="2.7">N</tspan><tspan font-size="4.5" dy="1.6">1</tspan></text>
<text x="379.4" y="236.6" font-size="7.45" text-anchor="middle" fill="#231f20" stroke="#231f20" stroke-width="0.22" transform="rotate(-90 379.4 236.6)" ><tspan font-style="italic">Lrrc58</tspan> transcript abundance</text>
<text x="388.4" y="240.2" font-size="7.45" text-anchor="middle" fill="#231f20" stroke="#231f20" stroke-width="0.22" transform="rotate(-90 388.4 240.2)" >(relative to scr)</text>
<rect x="423.4" y="227.4" width="10.2" height="60.8" fill="#636567" />
<rect x="439" y="271" width="10.3" height="17.2" fill="#9b1724" />
<line x1="418.3" y1="196.62" x2="418.3" y2="288.57" stroke="#231f20" stroke-width="0.75" />
<line x1="413.1" y1="197" x2="418.3" y2="197" stroke="#231f20" stroke-width="0.75" />
<text x="411.3" y="199.61" font-size="7.3" text-anchor="end" fill="#231f20" stroke="#231f20" stroke-width="0.22" >1.5</text>
<line x1="413.1" y1="227.4" x2="418.3" y2="227.4" stroke="#231f20" stroke-width="0.75" />
<text x="411.3" y="230.01" font-size="7.3" text-anchor="end" fill="#231f20" stroke="#231f20" stroke-width="0.22" >1.0</text>
<line x1="413.1" y1="257.8" x2="418.3" y2="257.8" stroke="#231f20" stroke-width="0.75" />
<text x="411.3" y="260.41" font-size="7.3" text-anchor="end" fill="#231f20" stroke="#231f20" stroke-width="0.22" >0.5</text>
<line x1="413.1" y1="288.2" x2="418.3" y2="288.2" stroke="#231f20" stroke-width="0.75" />
<text x="411.3" y="290.81" font-size="7.3" text-anchor="end" fill="#231f20" stroke="#231f20" stroke-width="0.22" >0.0</text>
<line x1="417.9" y1="288.2" x2="454.6" y2="288.2" stroke="#231f20" stroke-width="0.75" />
<line x1="428.4" y1="288.2" x2="428.4" y2="292.7" stroke="#231f20" stroke-width="0.75" />
<line x1="444.2" y1="288.2" x2="444.2" y2="292.7" stroke="#231f20" stroke-width="0.75" />
<line x1="428.4" y1="224.4" x2="428.4" y2="229.2" stroke="#000" stroke-width="0.8" />
<line x1="425.4" y1="224.4" x2="431.4" y2="224.4" stroke="#000" stroke-width="0.8" />
<line x1="425.4" y1="229.2" x2="431.4" y2="229.2" stroke="#000" stroke-width="0.8" />
<circle cx="426.6" cy="212.6" r="1.1" fill="#000"/>
<circle cx="430" cy="214.3" r="1.1" fill="#000"/>
<circle cx="428.3" cy="221.8" r="1.1" fill="#000"/>
<circle cx="426.6" cy="228.3" r="1.1" fill="#000"/>
<circle cx="430.5" cy="228.5" r="1.1" fill="#000"/>
<circle cx="428.5" cy="230.9" r="1.1" fill="#000"/>
<circle cx="426.5" cy="236" r="1.1" fill="#000"/>
<circle cx="430.2" cy="236.5" r="1.1" fill="#000"/>
<circle cx="428.3" cy="233.2" r="1.1" fill="#000"/>
<line x1="444.1" y1="268.8" x2="444.1" y2="272" stroke="#000" stroke-width="0.8" />
<line x1="441.1" y1="268.8" x2="447.1" y2="268.8" stroke="#000" stroke-width="0.8" />
<line x1="441.1" y1="272" x2="447.1" y2="272" stroke="#000" stroke-width="0.8" />
<circle cx="444.1" cy="264.7" r="1.1" fill="#000"/>
<circle cx="444.1" cy="267.6" r="1.1" fill="#000"/>
<circle cx="442" cy="269.5" r="1.1" fill="#000"/>
<circle cx="446" cy="269.5" r="1.1" fill="#000"/>
<circle cx="441" cy="271" r="1.1" fill="#000"/>
<circle cx="447" cy="271" r="1.1" fill="#000"/>
<circle cx="444" cy="272" r="1.1" fill="#000"/>
<circle cx="442.5" cy="273.5" r="1.1" fill="#000"/>
<circle cx="445.5" cy="273.5" r="1.1" fill="#000"/>
<text x="424.9" y="204" font-size="6.4" text-anchor="start" fill="#231f20" stroke="#231f20" stroke-width="0.1">p=6.0e-11</text>
<line x1="432.5" y1="208.2" x2="442.7" y2="208.2" stroke="#231f20" stroke-width="0.7" />
<text x="431.1" y="300.6" font-size="7.6" text-anchor="end" fill="#231f20" stroke="#231f20" stroke-width="0.22" transform="rotate(-45 431.1 300.6)" >Scr</text>
<text x="446.6" y="299.8" font-size="7.55" text-anchor="end" fill="#231f20" stroke="#231f20" stroke-width="0.22" transform="rotate(-45 446.6 299.8)" >LRRC58<tspan dy="-1.9" font-size="5.5">KD</tspan></text>
<text x="512.1" y="240.8" font-size="7.45" text-anchor="middle" fill="#231f20" stroke="#231f20" stroke-width="0.22" transform="rotate(-90 512.1 240.8)" >Metabolite abundace</text>
<text x="521.1" y="240.8" font-size="7.45" text-anchor="middle" fill="#231f20" stroke="#231f20" stroke-width="0.22" transform="rotate(-90 521.1 240.8)" >(relative to scr)</text>
<rect x="539.8" y="250.7" width="5.4" height="36.9" fill="#636567" />
<rect x="547.9" y="264.4" width="5.4" height="23.2" fill="#9b1724" />
<rect x="561.4" y="250.7" width="5.4" height="36.9" fill="#636567" />
<rect x="569.5" y="263" width="5.4" height="24.6" fill="#9b1724" />
<rect x="583" y="250.7" width="5.4" height="36.9" fill="#636567" />
<rect x="591.1" y="264.4" width="5.4" height="23.2" fill="#9b1724" />
<line x1="537.7" y1="195.12" x2="537.7" y2="287.98" stroke="#231f20" stroke-width="0.75" />
<line x1="533.8" y1="213.5" x2="537.7" y2="213.5" stroke="#231f20" stroke-width="0.75" />
<text x="532.4" y="216.22" font-size="7.6" text-anchor="end" fill="#231f20" stroke="#231f20" stroke-width="0.22" >2</text>
<line x1="533.8" y1="250.6" x2="537.7" y2="250.6" stroke="#231f20" stroke-width="0.75" />
<text x="532.4" y="253.32" font-size="7.6" text-anchor="end" fill="#231f20" stroke="#231f20" stroke-width="0.22" >1</text>
<line x1="533.8" y1="287.6" x2="537.7" y2="287.6" stroke="#231f20" stroke-width="0.75" />
<text x="532.4" y="290.32" font-size="7.6" text-anchor="end" fill="#231f20" stroke="#231f20" stroke-width="0.22" >0</text>
<line x1="537.3" y1="287.6" x2="599.1" y2="287.6" stroke="#231f20" stroke-width="0.75" />
<line x1="546.6" y1="287.6" x2="546.6" y2="291" stroke="#231f20" stroke-width="0.75" />
<line x1="568.2" y1="287.6" x2="568.2" y2="291" stroke="#231f20" stroke-width="0.75" />
<line x1="589.8" y1="287.6" x2="589.8" y2="291" stroke="#231f20" stroke-width="0.75" />
<line x1="542.5" y1="244.1" x2="542.5" y2="256.7" stroke="#000" stroke-width="0.8" />
<line x1="540.5" y1="244.1" x2="544.5" y2="244.1" stroke="#000" stroke-width="0.8" />
<line x1="540.5" y1="256.7" x2="544.5" y2="256.7" stroke="#000" stroke-width="0.8" />
<line x1="550.6" y1="261.6" x2="550.6" y2="267" stroke="#000" stroke-width="0.8" />
<line x1="548.6" y1="261.6" x2="552.6" y2="261.6" stroke="#000" stroke-width="0.8" />
<line x1="548.6" y1="267" x2="552.6" y2="267" stroke="#000" stroke-width="0.8" />
<circle cx="542.6" cy="215.1" r="1.55" fill="#000"/>
<circle cx="541.8" cy="226.4" r="1.55" fill="#000"/>
<circle cx="543.4" cy="227.2" r="1.55" fill="#000"/>
<circle cx="542.6" cy="242.5" r="1.55" fill="#000"/>
<circle cx="541.6" cy="261.6" r="1.55" fill="#000"/>
<circle cx="543.6" cy="262.9" r="1.55" fill="#000"/>
<circle cx="542.6" cy="265.6" r="1.55" fill="#000"/>
<circle cx="542.6" cy="268.9" r="1.55" fill="#000"/>
<circle cx="542.6" cy="274.6" r="1.55" fill="#000"/>
<circle cx="550.6" cy="247.5" r="1.55" fill="#000"/>
<circle cx="550.6" cy="252.2" r="1.55" fill="#000"/>
<circle cx="550.6" cy="265.6" r="1.55" fill="#000"/>
<circle cx="550.6" cy="268" r="1.55" fill="#000"/>
<circle cx="550.6" cy="270.5" r="1.55" fill="#000"/>
<line x1="564.1" y1="246.2" x2="564.1" y2="255.9" stroke="#000" stroke-width="0.8" />
<line x1="562.1" y1="246.2" x2="566.1" y2="246.2" stroke="#000" stroke-width="0.8" />
<line x1="562.1" y1="255.9" x2="566.1" y2="255.9" stroke="#000" stroke-width="0.8" />
<line x1="572.3" y1="260.6" x2="572.3" y2="265.6" stroke="#000" stroke-width="0.8" />
<line x1="570.3" y1="260.6" x2="574.3" y2="260.6" stroke="#000" stroke-width="0.8" />
<line x1="570.3" y1="265.6" x2="574.3" y2="265.6" stroke="#000" stroke-width="0.8" />
<circle cx="564.2" cy="219.4" r="1.55" fill="#000"/>
<circle cx="565" cy="226.4" r="1.55" fill="#000"/>
<circle cx="563.6" cy="229.5" r="1.55" fill="#000"/>
<circle cx="564.2" cy="244.1" r="1.55" fill="#000"/>
<circle cx="564.2" cy="261.6" r="1.55" fill="#000"/>
<circle cx="563.2" cy="264" r="1.55" fill="#000"/>
<circle cx="565.2" cy="265.2" r="1.55" fill="#000"/>
<circle cx="564.2" cy="273.7" r="1.55" fill="#000"/>
<circle cx="572.3" cy="247.8" r="1.55" fill="#000"/>
<circle cx="572.3" cy="251.9" r="1.55" fill="#000"/>
<circle cx="572.3" cy="254.3" r="1.55" fill="#000"/>
<circle cx="572.3" cy="260.3" r="1.55" fill="#000"/>
<circle cx="572.3" cy="262.4" r="1.55" fill="#000"/>
<circle cx="572.3" cy="268.9" r="1.55" fill="#000"/>
<circle cx="572.3" cy="271.3" r="1.55" fill="#000"/>
<line x1="585.7" y1="243.4" x2="585.7" y2="257.5" stroke="#000" stroke-width="0.8" />
<line x1="583.7" y1="243.4" x2="587.7" y2="243.4" stroke="#000" stroke-width="0.8" />
<line x1="583.7" y1="257.5" x2="587.7" y2="257.5" stroke="#000" stroke-width="0.8" />
<line x1="593.3" y1="261.3" x2="593.3" y2="267.5" stroke="#000" stroke-width="0.8" />
<line x1="591.3" y1="261.3" x2="595.3" y2="261.3" stroke="#000" stroke-width="0.8" />
<line x1="591.3" y1="267.5" x2="595.3" y2="267.5" stroke="#000" stroke-width="0.8" />
<circle cx="585.6" cy="206.8" r="1.55" fill="#000"/>
<circle cx="585.6" cy="219.9" r="1.55" fill="#000"/>
<circle cx="585.6" cy="229.7" r="1.55" fill="#000"/>
<circle cx="585.6" cy="239.2" r="1.55" fill="#000"/>
<circle cx="586.8" cy="264.8" r="1.55" fill="#000"/>
<circle cx="584.6" cy="266.8" r="1.55" fill="#000"/>
<circle cx="586.6" cy="269.7" r="1.55" fill="#000"/>
<circle cx="585.6" cy="272.9" r="1.55" fill="#000"/>
<circle cx="584.8" cy="274.9" r="1.55" fill="#000"/>
<circle cx="593.3" cy="240" r="1.55" fill="#000"/>
<circle cx="593.3" cy="243.4" r="1.55" fill="#000"/>
<circle cx="593.3" cy="255.9" r="1.55" fill="#000"/>
<circle cx="593.3" cy="265.6" r="1.55" fill="#000"/>
<circle cx="593.3" cy="268" r="1.55" fill="#000"/>
<circle cx="593.3" cy="270.8" r="1.55" fill="#000"/>
<circle cx="593.3" cy="273.3" r="1.55" fill="#000"/>
<text x="535.1" y="190.4" font-size="6.4" text-anchor="start" fill="#231f20" stroke="#231f20" stroke-width="0.1">p=0.048</text>
<line x1="541.9" y1="195.5" x2="549.2" y2="195.5" stroke="#231f20" stroke-width="0.7" />
<rect x="606.8" y="191.6" width="10.3" height="5.2" fill="#636567" />
<rect x="606.8" y="203.7" width="10.3" height="4.9" fill="#9b1724" />
<text x="621.7" y="196.5" font-size="7.4" text-anchor="start" fill="#231f20" stroke="#231f20" stroke-width="0.22" >Scr</text>
<text x="621.7" y="208.9" font-size="7.4" text-anchor="start" fill="#231f20" stroke="#231f20" stroke-width="0.22" >LRRC58<tspan dy="-2.3" dx="0.3" font-size="4.7" stroke-width="0.08">KD</tspan></text>
<text x="543" y="296.6" font-size="7.65" text-anchor="end" fill="#231f20" stroke="#231f20" stroke-width="0.22" transform="rotate(-45 543 296.6)" >Eladic/oleic/</text>
<text x="548.6" y="304.2" font-size="7.65" text-anchor="end" fill="#231f20" stroke="#231f20" stroke-width="0.22" transform="rotate(-45 548.6 304.2)" >petroselinic acid</text>
<text x="573.4" y="295.8" font-size="7.65" text-anchor="end" fill="#231f20" stroke="#231f20" stroke-width="0.22" transform="rotate(-45 573.4 295.8)" >Palmitoleic acid</text>
<text x="594" y="296.4" font-size="7.65" text-anchor="end" fill="#231f20" stroke="#231f20" stroke-width="0.22" transform="rotate(-45 594 296.4)" >Linoleic acid</text>
<text x="29.9" y="428.6" font-size="7.3" text-anchor="middle" fill="#231f20" stroke="#231f20" stroke-width="0.22" transform="rotate(-90 29.9 428.6)" >Metabolite abundance</text>
<text x="39" y="428.6" font-size="7.3" text-anchor="middle" fill="#231f20" stroke="#231f20" stroke-width="0.22" transform="rotate(-90 39 428.6)" >(relative to Scramble)</text>
<rect x="62.2" y="429.6" width="6" height="46.6" fill="#636567" />
<rect x="70.3" y="410.5" width="6.1" height="65.7" fill="#9b1724" />
<rect x="78.6" y="429.4" width="6.2" height="46.8" fill="#6a2260" />
<rect x="92.2" y="429.6" width="6" height="46.6" fill="#636567" />
<rect x="100.3" y="410.5" width="6.1" height="65.7" fill="#9b1724" />
<rect x="108.6" y="449.6" width="6.2" height="26.6" fill="#6a2260" />
<rect x="122.3" y="430.2" width="6" height="46" fill="#636567" />
<rect x="130.4" y="407.4" width="6.1" height="68.8" fill="#9b1724" />
<rect x="138.7" y="427.7" width="6.2" height="48.5" fill="#6a2260" />
<line x1="59.5" y1="383.12" x2="59.5" y2="476.57" stroke="#231f20" stroke-width="0.75" />
<line x1="54.8" y1="383.5" x2="59.5" y2="383.5" stroke="#231f20" stroke-width="0.75" />
<text x="52.9" y="386.36" font-size="8" text-anchor="end" fill="#231f20" stroke="#231f20" stroke-width="0.22" >2.0</text>
<line x1="54.8" y1="406.7" x2="59.5" y2="406.7" stroke="#231f20" stroke-width="0.75" />
<text x="52.9" y="409.56" font-size="8" text-anchor="end" fill="#231f20" stroke="#231f20" stroke-width="0.22" >1.5</text>
<line x1="54.8" y1="429.8" x2="59.5" y2="429.8" stroke="#231f20" stroke-width="0.75" />
<text x="52.9" y="432.66" font-size="8" text-anchor="end" fill="#231f20" stroke="#231f20" stroke-width="0.22" >1.0</text>
<line x1="54.8" y1="453" x2="59.5" y2="453" stroke="#231f20" stroke-width="0.75" />
<text x="52.9" y="455.86" font-size="8" text-anchor="end" fill="#231f20" stroke="#231f20" stroke-width="0.22" >0.5</text>
<line x1="54.8" y1="476.2" x2="59.5" y2="476.2" stroke="#231f20" stroke-width="0.75" />
<text x="52.9" y="479.06" font-size="8" text-anchor="end" fill="#231f20" stroke="#231f20" stroke-width="0.22" >0</text>
<line x1="59" y1="476.2" x2="146.9" y2="476.2" stroke="#231f20" stroke-width="0.75" />
<line x1="73.3" y1="476.2" x2="73.3" y2="479.8" stroke="#231f20" stroke-width="0.75" />
<line x1="103.4" y1="476.2" x2="103.4" y2="479.8" stroke="#231f20" stroke-width="0.75" />
<line x1="133.4" y1="476.2" x2="133.4" y2="479.8" stroke="#231f20" stroke-width="0.75" />
<line x1="64.9" y1="425.4" x2="64.9" y2="434" stroke="#636567" stroke-width="0.8" />
<line x1="62.9" y1="425.4" x2="66.9" y2="425.4" stroke="#636567" stroke-width="0.8" />
<line x1="62.9" y1="434" x2="66.9" y2="434" stroke="#636567" stroke-width="0.8" />
<circle cx="64.9" cy="414" r="1.45" fill="#000"/>
<circle cx="63.3" cy="421.7" r="1.45" fill="#000"/>
<circle cx="67" cy="423" r="1.45" fill="#000"/>
<circle cx="64.9" cy="433.2" r="1.45" fill="#000"/>
<circle cx="64.9" cy="439.5" r="1.45" fill="#000"/>
<circle cx="64.9" cy="446.1" r="1.45" fill="#000"/>
<line x1="73.2" y1="407.5" x2="73.2" y2="413" stroke="#9b1724" stroke-width="0.8" />
<line x1="71.2" y1="407.5" x2="75.2" y2="407.5" stroke="#9b1724" stroke-width="0.8" />
<line x1="71.2" y1="413" x2="75.2" y2="413" stroke="#9b1724" stroke-width="0.8" />
<circle cx="71.5" cy="405.5" r="1.45" fill="#000"/>
<circle cx="73.2" cy="404.9" r="1.45" fill="#000"/>
<circle cx="75" cy="406.2" r="1.45" fill="#000"/>
<circle cx="73.2" cy="416.9" r="1.45" fill="#000"/>
<circle cx="72.5" cy="418" r="1.45" fill="#000"/>
<line x1="81.6" y1="426.4" x2="81.6" y2="432.5" stroke="#6a2260" stroke-width="0.8" />
<line x1="79.6" y1="426.4" x2="83.6" y2="426.4" stroke="#6a2260" stroke-width="0.8" />
<line x1="79.6" y1="432.5" x2="83.6" y2="432.5" stroke="#6a2260" stroke-width="0.8" />
<circle cx="81.6" cy="415.7" r="1.45" fill="#000"/>
<circle cx="79.8" cy="428.6" r="1.45" fill="#000"/>
<circle cx="83.5" cy="430" r="1.45" fill="#000"/>
<circle cx="81.6" cy="431.5" r="1.45" fill="#000"/>
<circle cx="81.6" cy="434.1" r="1.45" fill="#000"/>
<circle cx="81.6" cy="442.9" r="1.45" fill="#000"/>
<line x1="95.1" y1="424.9" x2="95.1" y2="434" stroke="#636567" stroke-width="0.8" />
<line x1="93.1" y1="424.9" x2="97.1" y2="424.9" stroke="#636567" stroke-width="0.8" />
<line x1="93.1" y1="434" x2="97.1" y2="434" stroke="#636567" stroke-width="0.8" />
<circle cx="95.1" cy="402.6" r="1.45" fill="#000"/>
<circle cx="93.2" cy="423.5" r="1.45" fill="#000"/>
<circle cx="97" cy="423.5" r="1.45" fill="#000"/>
<circle cx="95.1" cy="438.8" r="1.45" fill="#000"/>
<circle cx="93.2" cy="444.6" r="1.45" fill="#000"/>
<circle cx="97" cy="443.2" r="1.45" fill="#000"/>
<line x1="103.2" y1="405.5" x2="103.2" y2="415" stroke="#9b1724" stroke-width="0.8" />
<line x1="101.2" y1="405.5" x2="105.2" y2="405.5" stroke="#9b1724" stroke-width="0.8" />
<line x1="101.2" y1="415" x2="105.2" y2="415" stroke="#9b1724" stroke-width="0.8" />
<circle cx="103.2" cy="398.2" r="1.45" fill="#000"/>
<circle cx="103.2" cy="404.5" r="1.45" fill="#000"/>
<circle cx="103.2" cy="409.6" r="1.45" fill="#000"/>
<circle cx="101.4" cy="419.1" r="1.45" fill="#000"/>
<circle cx="105" cy="419.1" r="1.45" fill="#000"/>
<line x1="111.6" y1="446.5" x2="111.6" y2="452" stroke="#6a2260" stroke-width="0.8" />
<line x1="109.6" y1="446.5" x2="113.6" y2="446.5" stroke="#6a2260" stroke-width="0.8" />
<line x1="109.6" y1="452" x2="113.6" y2="452" stroke="#6a2260" stroke-width="0.8" />
<circle cx="111.6" cy="436.2" r="1.45" fill="#000"/>
<circle cx="111.6" cy="445.4" r="1.45" fill="#000"/>
<circle cx="109.7" cy="449" r="1.45" fill="#000"/>
<circle cx="113.4" cy="449" r="1.45" fill="#000"/>
<circle cx="110.5" cy="452.2" r="1.45" fill="#000"/>
<circle cx="112.8" cy="451.2" r="1.45" fill="#000"/>
<line x1="125.4" y1="425.5" x2="125.4" y2="435" stroke="#636567" stroke-width="0.8" />
<line x1="123.4" y1="425.5" x2="127.4" y2="425.5" stroke="#636567" stroke-width="0.8" />
<line x1="123.4" y1="435" x2="127.4" y2="435" stroke="#636567" stroke-width="0.8" />
<circle cx="125.4" cy="413.7" r="1.45" fill="#000"/>
<circle cx="125.4" cy="420.1" r="1.45" fill="#000"/>
<circle cx="125.4" cy="424.9" r="1.45" fill="#000"/>
<circle cx="123.6" cy="434.7" r="1.45" fill="#000"/>
<circle cx="127" cy="435.1" r="1.45" fill="#000"/>
<circle cx="125.4" cy="449" r="1.45" fill="#000"/>
<line x1="133.4" y1="405" x2="133.4" y2="410" stroke="#9b1724" stroke-width="0.8" />
<line x1="131.4" y1="405" x2="135.4" y2="405" stroke="#9b1724" stroke-width="0.8" />
<line x1="131.4" y1="410" x2="135.4" y2="410" stroke="#9b1724" stroke-width="0.8" />
<circle cx="133.4" cy="401.3" r="1.45" fill="#000"/>
<circle cx="133.4" cy="404.9" r="1.45" fill="#000"/>
<circle cx="131.6" cy="407.8" r="1.45" fill="#000"/>
<circle cx="135" cy="408.4" r="1.45" fill="#000"/>
<circle cx="133.4" cy="412.5" r="1.45" fill="#000"/>
<line x1="141.9" y1="424.2" x2="141.9" y2="431" stroke="#6a2260" stroke-width="0.8" />
<line x1="139.9" y1="424.2" x2="143.9" y2="424.2" stroke="#6a2260" stroke-width="0.8" />
<line x1="139.9" y1="431" x2="143.9" y2="431" stroke="#6a2260" stroke-width="0.8" />
<circle cx="141.9" cy="416.9" r="1.45" fill="#000"/>
<circle cx="141.9" cy="421" r="1.45" fill="#000"/>
<circle cx="140.1" cy="428.9" r="1.45" fill="#000"/>
<circle cx="143.6" cy="428.9" r="1.45" fill="#000"/>
<circle cx="140.5" cy="431.5" r="1.45" fill="#000"/>
<circle cx="143.3" cy="431.5" r="1.45" fill="#000"/>
<text x="74.7" y="399" font-size="6.5" text-anchor="start" fill="#231f20" transform="rotate(-90 74.7 399)" stroke="#231f20" stroke-width="0.1">p=0.011</text>
<text x="104.7" y="392.6" font-size="6.5" text-anchor="start" fill="#231f20" transform="rotate(-90 104.7 392.6)" stroke="#231f20" stroke-width="0.1">p=0.042</text>
<text x="113.4" y="428.2" font-size="6.5" text-anchor="start" fill="#6d6e70" transform="rotate(-90 113.4 428.2)" stroke-width="0">p=0.028</text>
<text x="135.3" y="396.6" font-size="6.5" text-anchor="start" fill="#231f20" transform="rotate(-90 135.3 396.6)" stroke="#231f20" stroke-width="0.1">p=0.0044</text>
<text x="76.1" y="489.7" font-size="7.7" text-anchor="end" fill="#231f20" stroke="#231f20" stroke-width="0.22" transform="rotate(-44 76.1 489.7)" >Taurochenodeoxycholic Acid</text>
<text x="103.9" y="489.6" font-size="7.7" text-anchor="end" fill="#231f20" stroke="#231f20" stroke-width="0.22" transform="rotate(-44 103.9 489.6)" >Tauro-<tspan dx="0.6">β</tspan><tspan dx="1.2">-muricholic Acid</tspan></text>
<text x="134.9" y="489" font-size="7.55" text-anchor="end" fill="#231f20" stroke="#231f20" stroke-width="0.22" transform="rotate(-45 134.9 489)" >Taurocholic acid</text>
<rect x="148.5" y="378.6" width="3.7" height="3.7" fill="#636567" />
<text x="155.7" y="383.2" font-size="7.45" text-anchor="start" fill="#231f20" stroke="#231f20" stroke-width="0.1" >Scr</text>
<rect x="148.5" y="387.5" width="3.7" height="3.7" fill="#9b1724" />
<text x="155.7" y="392.1" font-size="7.45" text-anchor="start" fill="#231f20" stroke="#231f20" stroke-width="0.1" >LRRC58<tspan dy="-2.3" dx="0.3" font-size="5.7" stroke-width="0.08">KD</tspan></text>
<rect x="148.5" y="396.4" width="3.7" height="3.7" fill="#6a2260" />
<text x="155.7" y="401" font-size="7.45" text-anchor="start" fill="#231f20" stroke="#231f20" stroke-width="0.1" >LRRC58<tspan dy="-2.3" dx="0.3" font-size="5.7" stroke-width="0.08">KD</tspan><tspan dy="2.3">+CDO1</tspan><tspan dy="-2.3" dx="0.3" font-size="5.7" stroke-width="0.08">KD</tspan></text>
<text x="271.4" y="427" font-size="7.15" text-anchor="middle" fill="#231f20" stroke="#231f20" stroke-width="0.22" transform="rotate(-90 271.4 427)" >Total cholesterol</text>
<text x="280.5" y="427" font-size="7.15" text-anchor="middle" fill="#231f20" stroke="#231f20" stroke-width="0.22" transform="rotate(-90 280.5 427)" >fold relative to scramble</text>
<rect x="306" y="430.9" width="6.8" height="44.8" fill="#636567" />
<rect x="316.6" y="441.4" width="7.2" height="34.3" fill="#9b1724" />
<rect x="327.4" y="379.2" width="7.2" height="96.5" fill="#6a2260" />
<line x1="302.7" y1="376.62" x2="302.7" y2="476.07" stroke="#231f20" stroke-width="0.75" />
<line x1="298.2" y1="383.1" x2="302.7" y2="383.1" stroke="#231f20" stroke-width="0.75" />
<text x="297.1" y="385.96" font-size="8" text-anchor="end" fill="#231f20" stroke="#231f20" stroke-width="0.22" >2</text>
<line x1="298.2" y1="406.2" x2="302.7" y2="406.2" stroke="#231f20" stroke-width="0.75" />
<text x="297.1" y="409.06" font-size="8" text-anchor="end" fill="#231f20" stroke="#231f20" stroke-width="0.22" >1.5</text>
<line x1="298.2" y1="429.4" x2="302.7" y2="429.4" stroke="#231f20" stroke-width="0.75" />
<text x="297.1" y="432.26" font-size="8" text-anchor="end" fill="#231f20" stroke="#231f20" stroke-width="0.22" >1</text>
<line x1="298.2" y1="452.6" x2="302.7" y2="452.6" stroke="#231f20" stroke-width="0.75" />
<text x="297.1" y="455.46" font-size="8" text-anchor="end" fill="#231f20" stroke="#231f20" stroke-width="0.22" >0.5</text>
<line x1="298.2" y1="475.7" x2="302.7" y2="475.7" stroke="#231f20" stroke-width="0.75" />
<text x="297.1" y="478.56" font-size="8" text-anchor="end" fill="#231f20" stroke="#231f20" stroke-width="0.22" >0</text>
<line x1="302.3" y1="475.7" x2="335.9" y2="475.7" stroke="#231f20" stroke-width="0.75" />
<line x1="309.4" y1="475.7" x2="309.4" y2="478.9" stroke="#231f20" stroke-width="0.75" />
<line x1="320.2" y1="475.7" x2="320.2" y2="478.9" stroke="#231f20" stroke-width="0.75" />
<line x1="331" y1="475.7" x2="331" y2="478.9" stroke="#231f20" stroke-width="0.75" />
<circle cx="307.5" cy="431" r="1.0" fill="#000"/>
<circle cx="309.4" cy="430" r="1.0" fill="#000"/>
<circle cx="311.2" cy="430.6" r="1.0" fill="#000"/>
<circle cx="310" cy="431.5" r="1.0" fill="#000"/>
<line x1="320.2" y1="438.5" x2="320.2" y2="443" stroke="#000" stroke-width="0.8" />
<line x1="318" y1="438.5" x2="322.4" y2="438.5" stroke="#000" stroke-width="0.8" />
<line x1="318" y1="443" x2="322.4" y2="443" stroke="#000" stroke-width="0.8" />
<circle cx="317.4" cy="436.9" r="1.0" fill="#000"/>
<circle cx="319.6" cy="437.9" r="1.0" fill="#000"/>
<circle cx="320.5" cy="439.8" r="1.0" fill="#000"/>
<circle cx="319" cy="441.5" r="1.0" fill="#000"/>
<circle cx="321.5" cy="442" r="1.0" fill="#000"/>
<circle cx="328.9" cy="378.6" r="1.0" fill="#000"/>
<circle cx="330.8" cy="376.9" r="1.0" fill="#000"/>
<circle cx="333" cy="377.5" r="1.0" fill="#000"/>
<circle cx="331.5" cy="379" r="1.0" fill="#000"/>
<circle cx="329.8" cy="380" r="1.0" fill="#000"/>
<text x="305.3" y="369.4" font-size="6.4" text-anchor="start" fill="#231f20" stroke="#231f20" stroke-width="0.1">p=1.3e-13</text>
<line x1="310.8" y1="372.6" x2="331.2" y2="372.6" stroke="#231f20" stroke-width="0.7" />
<text x="316.6" y="422.6" font-size="6.2" text-anchor="start" fill="#231f20" transform="rotate(-90 316.6 422.6)" stroke="#231f20" stroke-width="0.1">p=3.9e-4</text>
<line x1="311.1" y1="426.2" x2="318.1" y2="426.2" stroke="#231f20" stroke-width="0.7" />
<text x="311.4" y="488.6" font-size="7.7" text-anchor="end" fill="#231f20" stroke="#231f20" stroke-width="0.22" transform="rotate(-46 311.4 488.6)" >Scr</text>
<text x="320.8" y="488.2" font-size="7.7" text-anchor="end" fill="#231f20" stroke="#231f20" stroke-width="0.22" transform="rotate(-46 320.8 488.2)" >LRRC58<tspan dy="-3" dx="0.3" font-size="5.2" stroke-width="0.08">KD</tspan></text>
<text x="332.6" y="487.8" font-size="7.7" text-anchor="end" fill="#231f20" stroke="#231f20" stroke-width="0.22" transform="rotate(-46 332.6 487.8)" >LRRC58<tspan dy="-3" dx="0.3" font-size="5.2" stroke-width="0.08">KD</tspan><tspan dy="3"> +CDO1 </tspan><tspan dy="-3" dx="0.3" font-size="5.2" stroke-width="0.08">KD</tspan></text>
<rect x="343.5" y="378.9" width="3.7" height="3.7" fill="#636567" />
<text x="350.8" y="383.5" font-size="7.45" text-anchor="start" fill="#231f20" stroke="#231f20" stroke-width="0.1" >Scr</text>
<rect x="343.5" y="387.8" width="3.7" height="3.7" fill="#9b1724" />
<text x="350.8" y="392.4" font-size="7.45" text-anchor="start" fill="#231f20" stroke="#231f20" stroke-width="0.1" >LRRC58<tspan dy="-2.3" dx="0.3" font-size="5.7" stroke-width="0.08">KD</tspan></text>
<rect x="343.5" y="396.7" width="3.7" height="3.7" fill="#6a2260" />
<text x="350.8" y="401.3" font-size="7.45" text-anchor="start" fill="#231f20" stroke="#231f20" stroke-width="0.1" >LRRC58<tspan dy="-2.3" dx="0.3" font-size="5.7" stroke-width="0.08">KD</tspan><tspan dy="2.3">+CDO1</tspan><tspan dy="-2.3" dx="0.3" font-size="5.7" stroke-width="0.08">KD</tspan></text>
</svg>
</body></html>
